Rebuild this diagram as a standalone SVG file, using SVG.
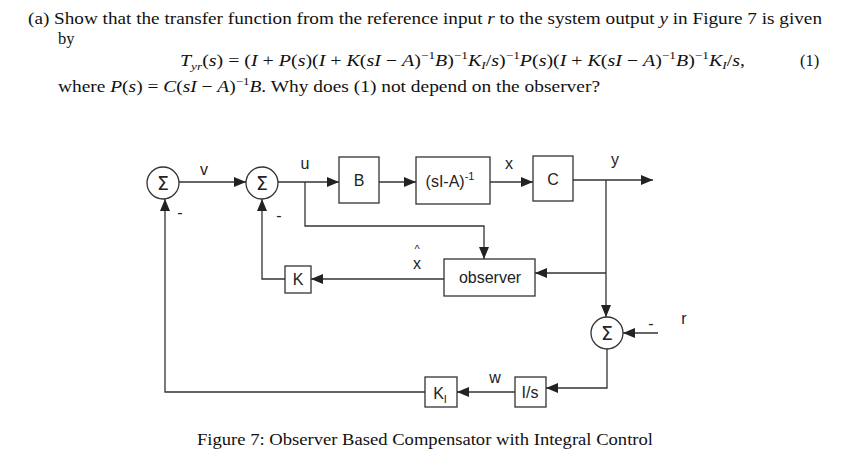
<svg xmlns="http://www.w3.org/2000/svg" width="860" height="458" viewBox="0 0 860 458">
<style>
.t{font-family:"Liberation Serif",serif;font-size:16.5px;fill:#111}
.i{font-style:italic}
.s{font-size:11px}
.d{font-family:"Liberation Sans",Arial,sans-serif;font-size:16px;fill:#222}
.g{font-family:"DejaVu Sans",sans-serif;font-size:19px;fill:#222}
.b{fill:#fff;stroke:#333;stroke-width:1.3}
.l{fill:none;stroke:#333;stroke-width:1.3}
</style>
<defs><marker id="a" markerWidth="12" markerHeight="10" refX="12" refY="5" orient="auto" markerUnits="userSpaceOnUse"><path d="M0,0 L12,5 L0,10 Z" fill="#222"/></marker></defs>
<rect width="860" height="458" fill="#fff"/>
<text class="t" x="28" y="24" textLength="794" lengthAdjust="spacingAndGlyphs">(a) Show that the transfer function from the reference input <tspan class="i">r</tspan> to the system output <tspan class="i">y</tspan> in Figure 7 is given</text>
<text class="t" x="58" y="44">by</text>
<text class="t" x="180" y="66" font-size="17.5" textLength="565" lengthAdjust="spacingAndGlyphs"><tspan class="i">T</tspan><tspan class="i s" dy="4">yr</tspan><tspan dy="-4">(</tspan><tspan class="i">s</tspan>) = (<tspan class="i">I</tspan> + <tspan class="i">P</tspan>(<tspan class="i">s</tspan>)(<tspan class="i">I</tspan> + <tspan class="i">K</tspan>(<tspan class="i">sI</tspan> − <tspan class="i">A</tspan>)<tspan class="s" dy="-7">−1</tspan><tspan class="i" dy="7">B</tspan>)<tspan class="s" dy="-7">−1</tspan><tspan class="i" dy="7">K</tspan><tspan class="i s" dy="3">I</tspan><tspan dy="-3">/</tspan><tspan class="i">s</tspan>)<tspan class="s" dy="-7">−1</tspan><tspan class="i" dy="7">P</tspan>(<tspan class="i">s</tspan>)(<tspan class="i">I</tspan> + <tspan class="i">K</tspan>(<tspan class="i">sI</tspan> − <tspan class="i">A</tspan>)<tspan class="s" dy="-7">−1</tspan><tspan class="i" dy="7">B</tspan>)<tspan class="s" dy="-7">−1</tspan><tspan class="i" dy="7">K</tspan><tspan class="i s" dy="3">I</tspan><tspan dy="-3">/</tspan><tspan class="i">s</tspan>,</text>
<text class="t" x="800" y="66">(1)</text>
<text class="t" x="58" y="92" font-size="18" textLength="542" lengthAdjust="spacingAndGlyphs">where <tspan class="i">P</tspan>(<tspan class="i">s</tspan>) = <tspan class="i">C</tspan>(<tspan class="i">sI</tspan> − <tspan class="i">A</tspan>)<tspan class="s" dy="-7">−1</tspan><tspan class="i" dy="7">B</tspan>. Why does (1) not depend on the observer?</text>
<text class="t" x="197" y="445" font-size="17.5" textLength="456" lengthAdjust="spacingAndGlyphs">Figure 7: Observer Based Compensator with Integral Control</text>

<g id="connectors">
<path class="l" d="M179,182 H246" marker-end="url(#a)"/>
<path class="l" d="M278,182 H339" marker-end="url(#a)"/>
<path class="l" d="M379,182 H416" marker-end="url(#a)"/>
<path class="l" d="M490,182 H533" marker-end="url(#a)"/>
<path class="l" d="M573,180 H653" marker-end="url(#a)"/>
<path class="l" d="M305,182 V226 H484 V259" marker-end="url(#a)"/>
<path class="l" d="M606,180 V317" marker-end="url(#a)"/>
<path class="l" d="M606,273 H535" marker-end="url(#a)"/>
<path class="l" d="M444,279 H311" marker-end="url(#a)"/>
<path class="l" d="M285,279 H262 V199" marker-end="url(#a)"/>
<path class="l" d="M658,333 H623" marker-end="url(#a)"/>
<path class="l" d="M607,349 V388 H546" marker-end="url(#a)"/>
<path class="l" d="M515,392 H457" marker-end="url(#a)"/>
<path class="l" d="M425,392 H165 V199" marker-end="url(#a)"/>
</g>
<g class="d">
<text x="204" y="175" text-anchor="middle">v</text>
<text x="305" y="169" text-anchor="middle">u</text>
<text x="509" y="169" text-anchor="middle">x</text>
<text x="615" y="165" text-anchor="middle">y</text>
<text x="417" y="269" text-anchor="middle">x</text>
<text x="417" y="253" text-anchor="middle" font-size="11">^</text>
<text x="495" y="383" text-anchor="middle">w</text>
<text x="684" y="324" text-anchor="middle">r</text>
<text x="180" y="218" text-anchor="middle">-</text>
<text x="279" y="221" text-anchor="middle">-</text>
<text x="651" y="329" text-anchor="middle">-</text>
</g>
<g id="sum1"><circle class="b" cx="163" cy="183" r="16"/><text class="g" x="163" y="190" text-anchor="middle">Σ</text></g>
<g id="sum2"><circle class="b" cx="262" cy="183" r="16"/><text class="g" x="262" y="190" text-anchor="middle">Σ</text></g>
<g id="sum3"><circle class="b" cx="607" cy="333" r="16"/><text class="g" x="607" y="340" text-anchor="middle">Σ</text></g>
<g id="B"><rect class="b" x="339" y="157" width="40" height="46"/><text class="d" x="359" y="186" text-anchor="middle">B</text></g>
<g id="sIA"><rect class="b" x="416" y="157" width="74" height="47"/><text class="d" x="450" y="187" text-anchor="middle">(sI-A)<tspan font-size="11" dy="-7">-1</tspan></text></g>
<g id="C"><rect class="b" x="533" y="156" width="40" height="45"/><text class="d" x="553" y="185" text-anchor="middle">C</text></g>
<g id="observer"><rect class="b" x="444" y="259" width="91" height="37"/><text class="d" x="490" y="283" text-anchor="middle">observer</text></g>
<g id="K"><rect class="b" x="285" y="266" width="26" height="27"/><text class="d" x="298" y="285" text-anchor="middle">K</text></g>
<g id="KI"><rect class="b" x="425" y="377" width="32" height="30"/><text class="d" x="440" y="399" text-anchor="middle">K<tspan font-size="11" dy="4">I</tspan></text></g>
<g id="Is"><rect class="b" x="515" y="377" width="31" height="30"/><text class="d" x="530" y="398" text-anchor="middle">I/s</text></g>
</svg>
